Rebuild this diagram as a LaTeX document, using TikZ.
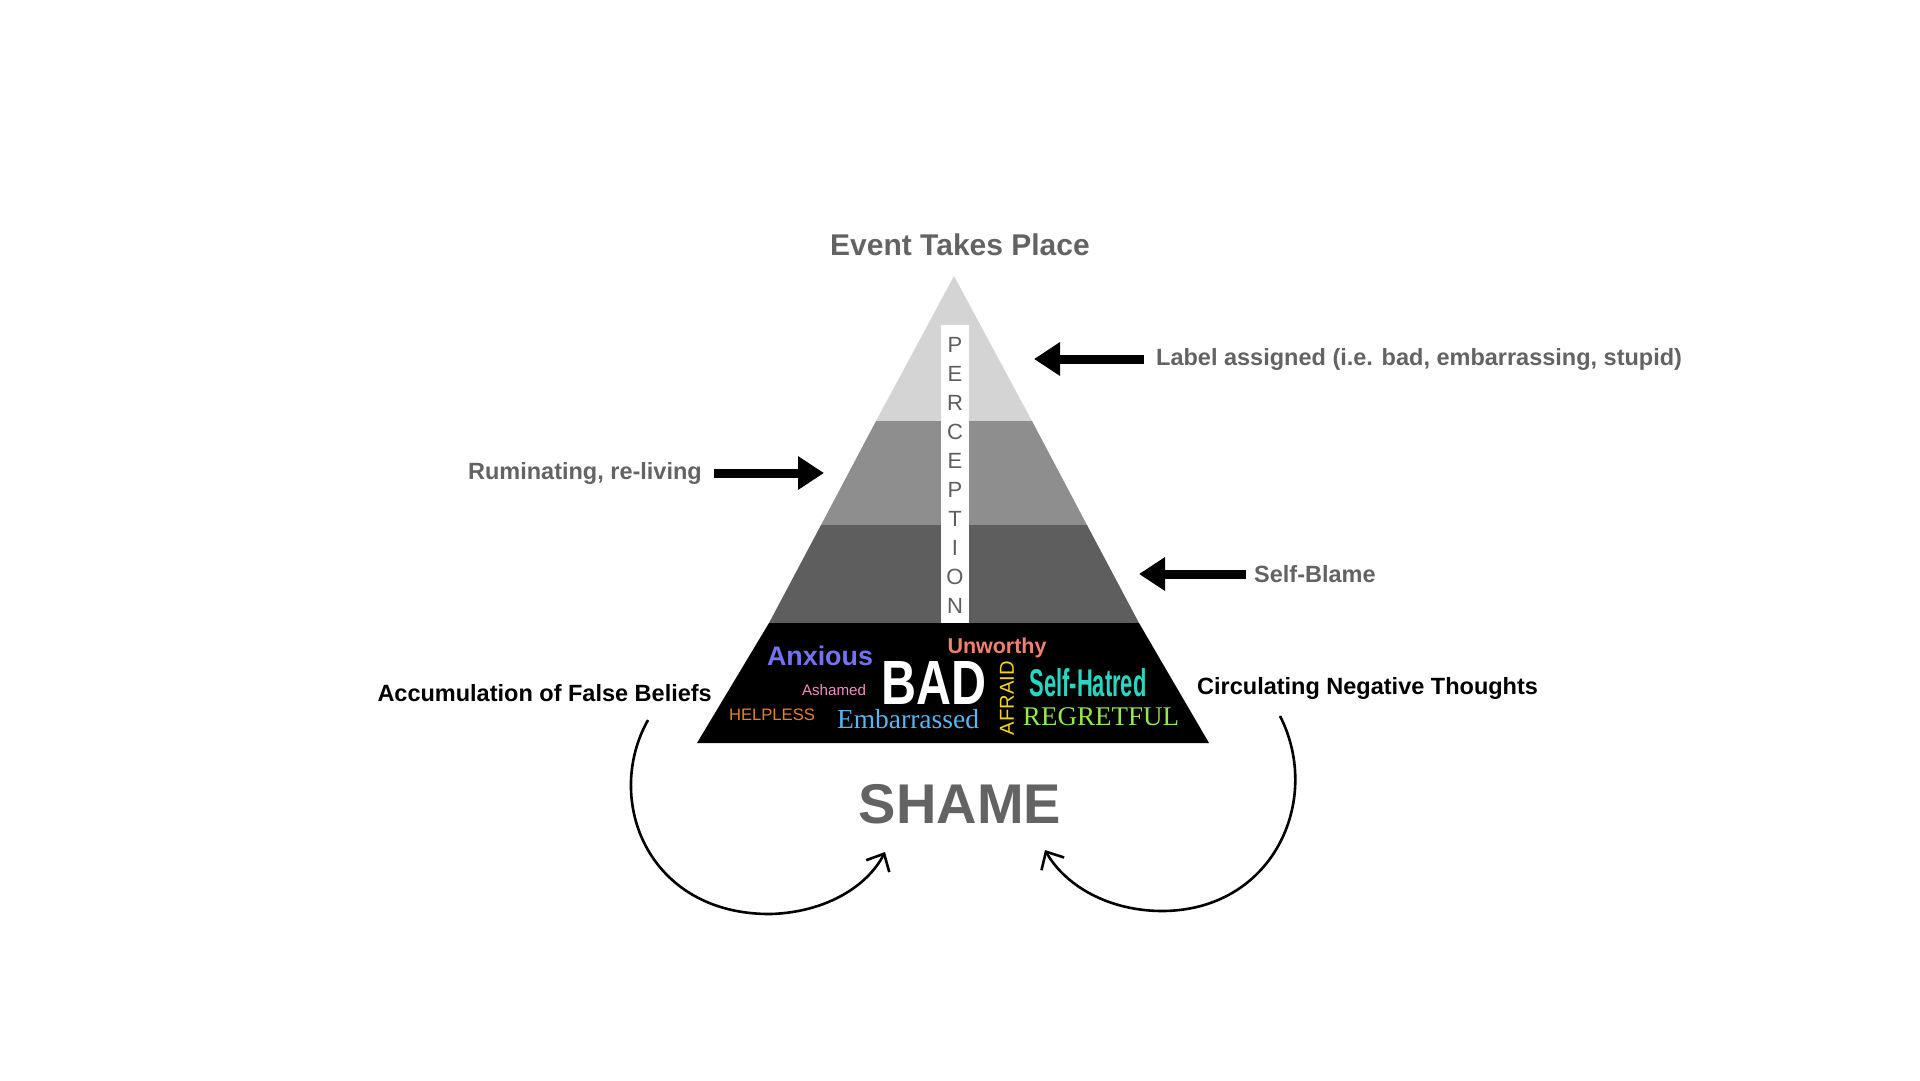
\documentclass[tikz,border=0pt]{standalone}
\usepackage{fontspec}
\setmainfont{Liberation Sans}
\newfontfamily\serifx{Liberation Serif}
\usetikzlibrary{arrows.meta}
\definecolor{lg}{HTML}{D4D4D4}
\definecolor{mg}{HTML}{8E8E8E}
\definecolor{dg}{HTML}{5E5E5E}
\definecolor{tg}{HTML}{636363}
\newcommand\fitw[2]{\resizebox{#1pt}{!}{#2}}
\newcommand\fitwh[3]{\resizebox{#1pt}{#2pt}{#3}}
\begin{document}
\begin{tikzpicture}[x=1pt,y=-1pt,
  lbl/.style={font=\fontsize{23.5}{25}\selectfont\bfseries, text=tg, inner sep=0},
  blk/.style={font=\fontsize{23.5}{25}\selectfont\bfseries, text=black, inner sep=0},
  bigar/.style={line width=9pt, -{Triangle[length=26pt,width=32pt]}},
  curvar/.style={line width=2.6pt, -{Straight Barb[length=14pt,width=26pt]}},
  word/.style={inner sep=0, font=\bfseries},
  letter/.style={inner sep=0, text=dg, font=\fontsize{22}{24}\selectfont}]
\useasboundingbox (0,0) rectangle (1920,1080);
\begin{scope}[xshift=-7pt]
% pyramid layers
\fill[lg] (961,276) -- (1039,421) -- (883,421) -- cycle;
\fill[mg] (883,421) -- (1039,421) -- (1094,525) -- (828,525) -- cycle;
\fill[dg] (828,525) -- (1094,525) -- (1146,623) -- (776,623) -- cycle;
\fill[black] (776,623) -- (1146,623) -- (1216,743) -- (704,743) -- cycle;
% perception strip
\fill[white] (948,325) rectangle (976,623);
\foreach \l [count=\i from 0] in {P,E,R,C,E,P,T,I,O,N}
  \node[letter] (p\i) at (962,345+29*\i) {\l};
% titles
\node[font=\fontsize{30}{32}\selectfont\bfseries, text=tg, inner sep=0] (ev) at (967,245) {Event Takes Place};
\node[font=\fontsize{56}{58}\selectfont\bfseries, text=tg, inner sep=0] (shame) at (967,804) {SHAME};
% side labels
\node[lbl, anchor=west] (la) at (1163,359) {Label assigned (i.e. bad, embarrassing, stupid)};
\node[lbl, anchor=east] (ru) at (709,473) {Ruminating, re-living};
\node[lbl, anchor=west] (sb) at (1261,574) {Self-Blame};
\node[blk, anchor=east] (ac) at (719,693) {Accumulation of False Beliefs};
\node[blk, anchor=west] (ci) at (1204,688) {Circulating Negative Thoughts};
% arrows
\coordinate (la1) at (1041,359);
\coordinate (ru1) at (831,473);
\coordinate (sb1) at (1146,574);
\draw[bigar] (la.west) ++(-12,0) -- (la1);
\draw[bigar] (ru.east) ++(12,0) -- (ru1);
\draw[bigar] (sb.west) ++(-8,0) -- (sb1);
% words
\node[word, text={rgb,255:red,115;green,115;blue,240}] (w1) at (827,656) {\fitw{106}{Anxious}};
\node[word, text={rgb,255:red,240;green,128;blue,112}] (w2) at (1004,648) {\fitw{99}{Unworthy}};
\node[word, text=white] (w3) at (941,683) {\fitwh{105}{43}{BAD}};
\node[inner sep=0, text={rgb,255:red,240;green,140;blue,200}] (w4) at (841,690) {\fitw{64}{Ashamed}};
\node[inner sep=0, text={rgb,255:red,230;green,130;blue,40}] (w5) at (779,715) {\fitw{86}{HELPLESS}};
\node[inner sep=0, text={rgb,255:red,90;green,180;blue,240}, font=\serifx] (w6) at (915,719) {\fitw{142}{Embarrassed}};
\node[inner sep=0, rotate=90, text={rgb,255:red,240;green,210;blue,40}] (w7) at (1014,698) {\fitw{74}{AFRAID}};
\node[word, text={rgb,255:red,40;green,215;blue,195}] (w8) at (1095,683) {\fitwh{117}{28}{Self-Hatred}};
\node[inner sep=0, text={rgb,255:red,150;green,230;blue,80}, font=\serifx] (w9) at (1108,717) {\fitw{156}{REGRETFUL}};
% curved arrows
\coordinate (c1) at (655,720); \coordinate (c2) at (778,914); \coordinate (c3) at (892,852);
\coordinate (d1) at (1287,716); \coordinate (d2) at (1167,911); \coordinate (d3) at (1052,850);
\draw[curvar] (c1) .. controls (610,800) and (655,915) .. (c2) .. controls (835,912) and (875,885) .. (c3);
\draw[curvar] (d1) .. controls (1330,800) and (1280,912) .. (d2) .. controls (1110,910) and (1070,882) .. (d3);
\end{scope}
\end{tikzpicture}
\end{document}
